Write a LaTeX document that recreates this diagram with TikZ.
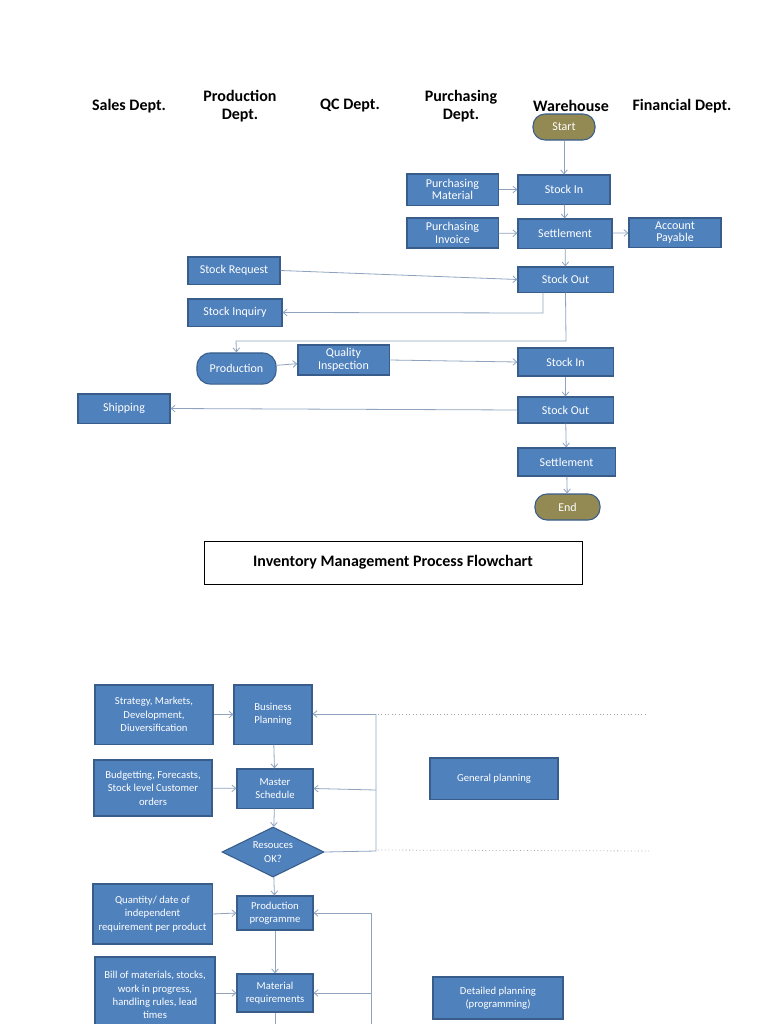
\documentclass[tikz,border=0pt]{standalone}
\usepackage{fontspec}
\setmainfont{Carlito}
\usetikzlibrary{arrows.meta,shapes.geometric}
\definecolor{bfill}{HTML}{4F81BD}
\definecolor{bdraw}{HTML}{385D8A}
\definecolor{olive}{HTML}{938953}
\definecolor{ln}{HTML}{8FA3BF}
\begin{document}
\begin{tikzpicture}[x=0.75pt,y=-0.75pt,
  box/.style={draw=bdraw,fill=bfill,text=white,font=\fontsize{9}{9.5}\selectfont,align=center,inner sep=1pt,line width=0.8pt},
  sbox/.style={box,font=\fontsize{8}{10}\selectfont},
  term/.style={draw=bdraw,fill=olive,text=white,font=\fontsize{9}{10}\selectfont,rounded corners=9pt,line width=0.8pt},
  rbox/.style={box,rounded corners=10pt},
  hd/.style={font=\bfseries\fontsize{12}{13.5}\selectfont,align=center},
  ar/.style={draw=ln,line width=0.6pt,-{Straight Barb[length=3pt,width=5pt]}},
  pl/.style={draw=ln,line width=0.6pt},
  dot/.style={draw=gray!70,line width=0.6pt,dotted}]
\useasboundingbox (0,0) rectangle (768,1024);
\clip (0,0) rectangle (768,1024);
% headers
\node[hd] (h1) at (129,106) {Sales Dept.};
\node[hd] (h2) at (240,106) {Production\\Dept.};
\node[hd] (h3) at (350,106) {QC Dept.};
\node[hd] (h4) at (461,106) {Purchasing\\Dept.};
\node[hd] (h5) at (571,106) {Warehouse};
\node[hd] (h6) at (682,106) {Financial Dept.};
% top flowchart
\node[term,minimum width=46.5pt,minimum height=19.5pt] (start) at (564,127) {Start};
\node[box,minimum width=68.3pt,minimum height=23.3pt] (pm) at (452.5,189.5) {Purchasing\\Material};
\node[box,minimum width=69pt,minimum height=21.8pt] (si1) at (564,189.5) {Stock In};
\node[box,minimum width=68.3pt,minimum height=22.5pt] (pi) at (452.5,233) {Purchasing\\Invoice};
\node[box,minimum width=70.5pt,minimum height=21.8pt] (set1) at (565,233.5) {Settlement};
\node[box,minimum width=69pt,minimum height=21.8pt] (ap) at (675,232.5) {Account\\Payable};
\node[box,minimum width=69pt,minimum height=20.3pt] (sr) at (234,270.5) {Stock Request};
\node[box,minimum width=71.3pt,minimum height=18.8pt] (so1) at (565.5,279.5) {Stock Out};
\node[box,minimum width=70.5pt,minimum height=20.3pt] (sinq) at (235,312.5) {Stock Inquiry};
\node[rbox,minimum width=59.3pt,minimum height=23.3pt] (prod) at (236.5,368.5) {Production};
\node[box,minimum width=68.3pt,minimum height=22.5pt] (qi) at (343.5,360) {Quality\\Inspection};
\node[box,minimum width=71.3pt,minimum height=21pt] (si2) at (565.5,362) {Stock In};
\node[box,minimum width=69pt,minimum height=21.8pt] (ship) at (124,408.5) {Shipping};
\node[box,minimum width=71.3pt,minimum height=19.5pt] (so2) at (565.5,410) {Stock Out};
\node[box,minimum width=72.8pt,minimum height=21pt] (set2) at (566.5,462) {Settlement};
\node[term,minimum width=48.8pt,minimum height=19.5pt] (end) at (567.5,507) {End};
\node[draw=black,line width=0.6pt,minimum width=283.5pt,minimum height=32.3pt,font=\bfseries\fontsize{12}{13}\selectfont] (title) at (393,562.5) {Inventory Management Process Flowchart};
% top connectors
\draw[ar] (start.south) -- (si1.north);
\draw[ar] (pm) -- (si1);
\draw[ar] (si1) -- (set1);
\draw[ar] (pi) -- (set1);
\draw[ar] (set1) -- (ap);
\draw[ar] (set1) -- (so1);
\draw[ar] (sr.east) -- (so1.west);
\coordinate (c1) at (543,313);
\draw[ar] (so1.south -| c1) -- (c1) -- (sinq.east);
\coordinate (c2) at (566,341);
\coordinate (c3) at (236,341);
\draw[ar] (so1.south) -- (c2) -- (c3) -- (prod.north);
\draw[ar] (prod) -- (qi);
\draw[ar] (qi.east) -- (si2.west);
\draw[ar] (si2) -- (so2);
\draw[ar] (so2.west) -- (ship.east);
\draw[ar] (so2) -- (set2);
\draw[ar] (set2) -- (end);
% bottom flowchart
\node[sbox,minimum width=88.5pt,minimum height=44.3pt] (strat) at (154,714.5) {Strategy, Markets,\\Development,\\Diuversification};
\node[sbox,minimum width=58.5pt,minimum height=44.3pt] (bp) at (273,714.5) {Business\\Planning};
\node[sbox,minimum width=88.5pt,minimum height=42pt] (budg) at (153,788) {Budgetting, Forecasts,\\Stock level Customer\\orders};
\node[sbox,minimum width=57pt,minimum height=29.3pt] (ms) at (275,788.5) {Master\\Schedule};
\node[diamond,draw=bdraw,fill=bfill,text=white,font=\fontsize{8}{10}\selectfont,align=center,inner sep=0pt,aspect=2.04,minimum width=76.5pt,minimum height=37.5pt,line width=0.8pt] (res) at (273,852) {Resouces\\OK?};
\node[sbox,minimum width=96pt,minimum height=30.8pt] (gp) at (494,778.5) {General planning};
\node[sbox,minimum width=89.3pt,minimum height=45pt] (qty) at (152.5,914) {Quantity/ date of\\independent\\requirement per product};
\node[sbox,minimum width=57pt,minimum height=25.5pt] (pp) at (275,913) {Production\\programme};
\node[sbox,minimum width=90pt,minimum height=57pt] (bill) at (155,995) {Bill of materials, stocks,\\work in progress,\\handling rules, lead\\times};
\node[sbox,minimum width=57pt,minimum height=28.5pt] (mr) at (275,993) {Material\\requirements};
\node[sbox,minimum width=97.5pt,minimum height=31.5pt] (dp) at (498,998) {Detailed planning\\(programming)};
% bottom connectors
\draw[ar] (strat) -- (bp);
\draw[ar] (budg) -- (ms);
\draw[ar] (qty.east) -- (pp.west);
\draw[ar] (bill.east |- mr.west) -- (mr.west);
\draw[ar] (bp) -- (ms);
\draw[ar] (ms) -- (res);
\draw[ar] (res) -- (pp);
\draw[ar] (pp) -- (mr);
\coordinate (mrb) at (275,1024);
\draw[pl] (mr.south) -- (mrb);
\coordinate (f1) at (376,714);
\coordinate (f2) at (376,790);
\coordinate (f3) at (376,851);
\draw[pl] (res.east) -- (f3) -- (f1);
\draw[ar] (f1) -- (bp.east |- f1);
\draw[ar] (f2) -- (ms.east);
\coordinate (d1) at (378,714);
\coordinate (d2) at (645,714);
\coordinate (d3) at (378,850);
\coordinate (d4) at (650,851);
\draw[dot] (d1) -- (d2);
\draw[dot] (d3) -- (d4);
\coordinate (g1) at (371,913);
\coordinate (g2) at (371,993);
\coordinate (g3) at (371,1024);
\draw[pl] (g1) -- (g3);
\draw[ar] (g1) -- (pp.east);
\draw[ar] (g2) -- (mr.east);
\end{tikzpicture}
\end{document}
